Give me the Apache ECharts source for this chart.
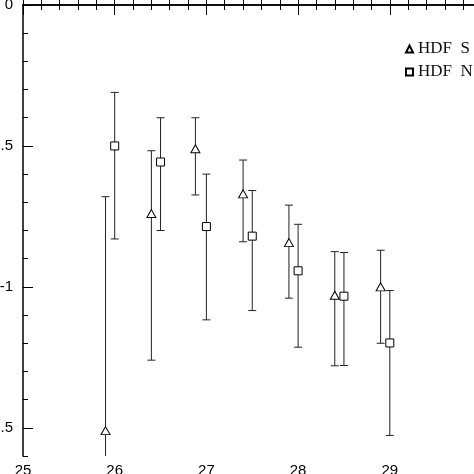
<!DOCTYPE html>
<html lang="en">
<head>
<meta charset="UTF-8" />
<title>HDF</title>
<style>
  html, body { margin: 0; padding: 0; overflow: hidden; background: #fff; }
  #main { position: absolute; left: -30px; top: 0; width: 540px; height: 474px; }
</style>
</head>
<body>
<div id="main"></div>
<script src="https://cdn.jsdelivr.net/npm/echarts@6/dist/echarts.min.js"></script>
<script type="text/javascript">
// HDF S (triangles)
var xS  = [25.9, 26.4, 26.88, 27.4, 27.9, 28.4, 28.9];
var yS  = [-1.51, -0.74, -0.51, -0.67, -0.843, -1.03, -1.0];
var hiS = [-0.68, -0.517, -0.40, -0.55, -0.71, -0.875, -0.87];
var loS = [-1.9, -1.26, -0.674, -0.84, -1.04, -1.28, -1.20];
// HDF N (squares)
var xN  = [26.0, 26.5, 27.0, 27.5, 28.0, 28.5, 29.0];
var yN  = [-0.50, -0.557, -0.786, -0.82, -0.943, -1.033, -1.199];
var hiN = [-0.31, -0.40, -0.60, -0.658, -0.778, -0.878, -1.013];
var loN = [-0.83, -0.80, -1.117, -1.084, -1.214, -1.279, -1.527];

var yMajor = [0, -0.5, -1, -1.5];
var yMinor = [];
for (var k = 0; k <= 16; k++) { yMinor.push(-k / 10); }

function zip2(a, b) {
    return a.map(function (v, i) { return [v, b[i]]; });
}
function zip3(a, b, c) {
    return a.map(function (v, i) { return [v, b[i], c[i]]; });
}

function errBar(params, api) {
    var x = api.value(0);
    var top = api.coord([x, api.value(2)]);
    var bot = api.coord([x, api.value(1)]);
    var w = 4;
    var st = { stroke: '#222', lineWidth: 1 };
    var cs = params.coordSys;
    return {
        type: 'group',
        clipPath: { type: 'rect', shape: { x: cs.x, y: cs.y, width: cs.width, height: cs.height } },
        children: [
            { type: 'line', shape: { x1: top[0], y1: top[1], x2: bot[0], y2: bot[1] }, style: st },
            { type: 'line', shape: { x1: top[0] - w, y1: top[1], x2: top[0] + w, y2: top[1] }, style: st },
            { type: 'line', shape: { x1: bot[0] - w, y1: bot[1], x2: bot[0] + w, y2: bot[1] }, style: st }
        ]
    };
}

var axisFont = { color: '#000', fontSize: 15, fontFamily: 'Liberation Sans, Arial, sans-serif' };
var lineSt = { color: '#000', width: 1.5 };

var myChart = echarts.init(document.getElementById('main'));
var option = {
    animation: false,
    grid: { left: 53, top: 5, width: 458.5, height: 451, outerBoundsMode: 'none', containLabel: false },
    legend: {
        orient: 'vertical',
        left: 435,
        top: 39,
        padding: 0,
        itemWidth: 7,
        itemHeight: 7,
        itemGap: 3,
        data: [
            { name: 'HDF  S', icon: 'triangle' },
            { name: 'HDF  N', icon: 'rect' }
        ],
        textStyle: { color: '#111', fontSize: 17, lineHeight: 20, fontFamily: 'Liberation Serif, Times New Roman, serif' }
    },
    xAxis: [{
        type: 'value', min: 25, max: 30, interval: 1, position: 'bottom',
        axisLine: { show: true, lineStyle: lineSt },
        axisTick: { show: true, inside: true, length: 10, lineStyle: { color: '#000', width: 1 } },
        minorTick: { show: true, splitNumber: 5, length: 5, lineStyle: { color: '#000', width: 1 } },
        axisLabel: Object.assign({ margin: 7 }, axisFont),
        splitLine: { show: false }
    }, {
        type: 'value', min: 25, max: 30, interval: 1, position: 'top',
        axisLine: { show: true, lineStyle: lineSt },
        axisTick: { show: true, inside: true, length: 10, lineStyle: { color: '#000', width: 1 } },
        minorTick: { show: true, splitNumber: 5, length: 5, lineStyle: { color: '#000', width: 1 } },
        axisLabel: { show: false },
        splitLine: { show: false }
    }],
    yAxis: [{
        type: 'value', min: -1.6, max: 0, position: 'left',
        axisLine: { show: true, lineStyle: lineSt },
        axisTick: { show: true, inside: true, length: 10, customValues: yMajor, lineStyle: { color: '#000', width: 1 } },
        axisLabel: Object.assign({ margin: 10, customValues: yMajor }, axisFont),
        splitLine: { show: false }
    }, {
        type: 'value', min: -1.6, max: 0, position: 'left',
        axisLine: { show: false },
        axisTick: { show: true, inside: true, length: 5, customValues: yMinor, lineStyle: { color: '#000', width: 1 } },
        axisLabel: { show: false },
        splitLine: { show: false }
    }],
    series: [{
        type: 'custom', name: 'errS', renderItem: errBar,
        data: zip3(xS, loS, hiS), encode: { x: 0, y: [1, 2] }, z: 1, silent: true
    }, {
        type: 'custom', name: 'errN', renderItem: errBar,
        data: zip3(xN, loN, hiN), encode: { x: 0, y: [1, 2] }, z: 1, silent: true
    }, {
        type: 'scatter', name: 'HDF  S', symbol: 'triangle', symbolSize: [9, 8],
        data: zip2(xS, yS), z: 3,
        itemStyle: { color: '#fff', borderColor: '#000', borderWidth: 1, opacity: 1 }
    }, {
        type: 'scatter', name: 'HDF  N', symbol: 'rect', symbolSize: 8,
        data: zip2(xN, yN), z: 3,
        itemStyle: { color: '#fff', borderColor: '#000', borderWidth: 1, opacity: 1 }
    }]
};
myChart.setOption(option);
</script>
</body>
</html>
